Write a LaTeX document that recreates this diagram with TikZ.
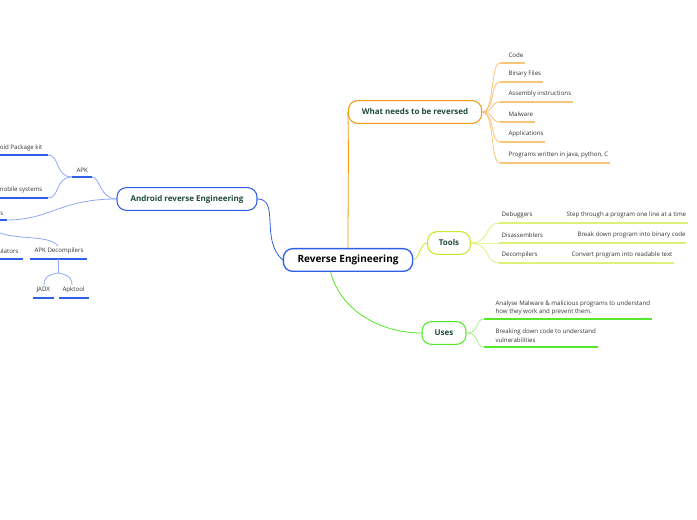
\documentclass[tikz,border=0pt]{standalone}
\usepackage{fontspec}
\setmainfont{Open Sans}
\definecolor{bl}{HTML}{2F5FE8}
\definecolor{lbl}{HTML}{8FA8F5}
\definecolor{org}{HTML}{F29A12}
\definecolor{lorg}{HTML}{F7C57A}
\definecolor{yg}{HTML}{C8E62A}
\definecolor{lyg}{HTML}{DDF07A}
\definecolor{gr}{HTML}{55E82A}
\definecolor{lgr}{HTML}{A6F08A}
\definecolor{tx}{HTML}{1F4A3A}
\begin{document}
\begin{tikzpicture}[x=0.75pt,y=-0.75pt,
  main/.style={draw=bl,line width=1pt,rounded corners=7pt,fill=white,minimum height=17pt,font=\fontsize{7.5}{9}\selectfont\bfseries,text=black,inner xsep=8pt},
  topic/.style={draw=#1,line width=0.8pt,rounded corners=7pt,fill=white,minimum height=17pt,font=\fontsize{6}{7}\selectfont\bfseries,text=tx,inner xsep=8pt},
  leaf/.style={font=\fontsize{4.6}{6.5}\selectfont,text=black!80,inner sep=1pt,anchor=west},
  ul/.style={line width=1.2pt,#1},
  cn/.style={line width=0.6pt,#1}]
\useasboundingbox (0,0) rectangle (697,520);
\clip (0,0) rectangle (697,520);
% root
\node[main,minimum width=97pt] (root) at (348,260) {Reverse Engineering};
% What needs
\node[topic=org,minimum width=100pt] (what) at (415,112) {What needs to be reversed};
\draw[cn=org] (root.north) .. controls (348,200) and (349,140) .. (what.west);
\foreach \t/\y [count=\i] in {Code/55,Binary Files/74,Assembly instructions/94,Malware/114,Applications/134,{Programs written in java, python, C}/155}{
  \node[leaf] (w\i) at (507,\y) {\t};
  \draw[ul=lorg] (500,\y+8) -- (w\i.east|-0,\y+8);
  \draw[cn=lorg] (what.east) .. controls (495,112) and (490,\y+8) .. (500,\y+8);
}
% Tools
\node[topic=yg,minimum width=32pt] (tools) at (449,243) {Tools};
\draw[cn=yg] (root.east) .. controls (420,258) and (420,243) .. (tools.west);
\foreach \t/\s/\sx/\ex/\y [count=\i] in {Debuggers/{Step through a program one line at a time}/565/688/215,Disassemblers/{Break down program into binary code}/576/686/235,Decompilers/{Convert program into readable text}/570/674/255}{
  \node[leaf] (t\i) at (500,\y) {\t};
  \node[leaf] (s\i) at (\sx,\y) {\s};
  \draw[ul=lyg] (499,\y+8) -- (t\i.east|-0,\y+8);
  \draw[ul=lyg] (t\i.east|-0,\y+8) -- (\ex,\y+8);
  \draw[cn=lyg] (tools.east) .. controls (490,243) and (485,\y+8) .. (499,\y+8);
}
% Uses
\node[topic=gr,minimum width=33pt] (uses) at (444,333) {Uses};
\draw[cn=gr] (root.south west) ++(48,0) .. controls (340,310) and (380,333) .. (uses.west);
\node[leaf,align=left] (u1) at (494,308) {Analyse Malware \& malicious programs to understand\\how they work and prevent them.};
\node[leaf,align=left] (u2) at (494,336) {Breaking down code to understand\\vulnerabilities};
\draw[ul=gr] (484,319) -- (652,319);
\draw[ul=gr] (484,347) -- (598,347);
\draw[cn=lgr] (uses.east) .. controls (480,333) and (475,319) .. (484,319);
\draw[cn=lgr] (uses.east) .. controls (480,333) and (475,347) .. (484,347);
% Android
\node[topic=bl,minimum width=105pt] (and) at (187,199) {Android reverse Engineering};
\draw[cn=bl] (root.west) .. controls (260,240) and (280,199) .. (and.east);
\node[leaf] (apk) at (75,170) {APK};
\draw[ul=bl] (72,177) -- (92,177);
\draw[cn=lbl] (and.west) .. controls (100,199) and (100,177) .. (92,177);
\node[leaf,anchor=east] (pk) at (44,148) {Android Package kit};
\draw[ul=bl] (0,155) -- (48,155);
\node[leaf,anchor=east] (ms) at (44,190) {Tools for mobile systems};
\draw[ul=bl] (0,198) -- (48,198);
\draw[cn=lbl] (72,177) .. controls (55,177) and (60,155) .. (48,155);
\draw[cn=lbl] (72,177) .. controls (55,177) and (60,198) .. (48,198);
\node[leaf,anchor=east] (ts) at (5,213) {Tools};
\draw[ul=bl] (0,220) -- (7,220);
\draw[cn=lbl] (and.west) .. controls (60,199) and (50,220) .. (7,220);
\node[leaf] (dec) at (33,251) {APK Decompilers};
\draw[ul=bl] (30,259) -- (87,259);
\node[leaf,anchor=east] (em) at (20,251) {Emulators};
\draw[ul=bl] (0,259) -- (23,259);
\draw[cn=lbl] (0,233) .. controls (20,240) and (50,235) .. (58,246);
\node[leaf] (jadx) at (35,290) {JADX};
\node[leaf] (apkt) at (61,290) {Apktool};
\draw[ul=bl] (33,298) -- (54,298);
\draw[ul=bl] (59,298) -- (89,298);
\draw[cn=lbl] (58,259) -- (58,273);
\draw[cn=lbl] (58,273) .. controls (45,275) and (44,280) .. (44,285);
\draw[cn=lbl] (58,273) .. controls (71,275) and (72,280) .. (72,285);
\end{tikzpicture}
\end{document}
